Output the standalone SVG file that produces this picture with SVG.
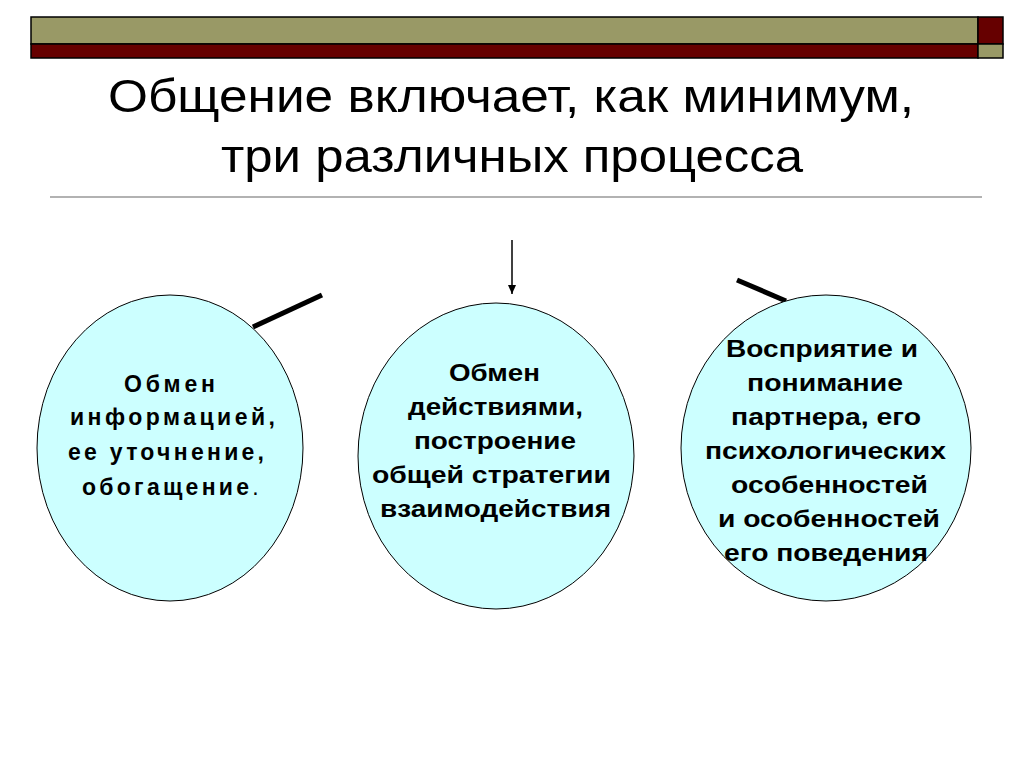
<svg xmlns="http://www.w3.org/2000/svg" width="1024" height="768" viewBox="0 0 1024 768">
<style>
.t{font-family:"Liberation Sans",Arial,sans-serif;fill:#000}
.h{font-size:47px}
.b{font-size:23px;font-weight:bold}
.e{fill:#ccffff;stroke:#000;stroke-width:1}
</style>
<defs><marker id="a" markerWidth="10" markerHeight="10" refX="5" refY="9" markerUnits="userSpaceOnUse"><path d="M1,0 L9,0 L5,9 Z" fill="#000"/></marker></defs>
<rect width="1024" height="768" fill="#fff"/>
<rect x="31" y="17" width="947" height="27" fill="#999966" stroke="#000" stroke-width="1.5"/>
<rect x="31" y="44" width="947" height="14" fill="#660000" stroke="#000" stroke-width="1.5"/>
<rect x="978" y="17" width="25" height="27" fill="#660000" stroke="#000" stroke-width="1.5"/>
<rect x="978" y="44" width="25" height="14" fill="#999966" stroke="#000" stroke-width="1.5"/>
<text class="t h" x="108" y="112" textLength="806" lengthAdjust="spacingAndGlyphs">Общение включает, как минимум,</text>
<text class="t h" x="221" y="172" textLength="582" lengthAdjust="spacingAndGlyphs">три различных процесса</text>
<line x1="50" y1="197" x2="982" y2="197" stroke="#999" stroke-width="1.5"/>
<g id="connectors" stroke="#000">
<line x1="253" y1="327" x2="322" y2="295" stroke-width="5"/>
<line x1="512" y1="240" x2="512" y2="294" stroke-width="1.5" marker-end="url(#a)"/>
<line x1="737" y1="280" x2="786" y2="301" stroke-width="5"/>
</g>
<g id="n1"><ellipse class="e" cx="170" cy="448" rx="133" ry="153"/>
<text class="t b" lengthAdjust="spacingAndGlyphs"><tspan x="124" y="392" textLength="91">Обмен</tspan><tspan x="70" y="425" textLength="205">информацией,</tspan><tspan x="68" y="460" textLength="196">ее уточнение,</tspan><tspan x="82" y="495" textLength="167">обогащение</tspan><tspan font-weight="normal">.</tspan></text></g>
<g id="n2"><ellipse class="e" cx="496" cy="456" rx="138" ry="153"/>
<text class="t b"><tspan x="449" y="381" textLength="91" lengthAdjust="spacingAndGlyphs">Обмен</tspan><tspan x="408" y="415" textLength="175" lengthAdjust="spacingAndGlyphs">действиями,</tspan><tspan x="414" y="449" textLength="162" lengthAdjust="spacingAndGlyphs">построение</tspan><tspan x="372" y="483" textLength="239" lengthAdjust="spacingAndGlyphs">общей стратегии</tspan><tspan x="380" y="517" textLength="231" lengthAdjust="spacingAndGlyphs">взаимодействия</tspan></text></g>
<g id="n3"><ellipse class="e" cx="826" cy="448" rx="145" ry="153"/>
<text class="t b"><tspan x="726" y="357" textLength="192" lengthAdjust="spacingAndGlyphs">Восприятие и</tspan><tspan x="747" y="391" textLength="156" lengthAdjust="spacingAndGlyphs">понимание</tspan><tspan x="731" y="425" textLength="190" lengthAdjust="spacingAndGlyphs">партнера, его</tspan><tspan x="705" y="459" textLength="241" lengthAdjust="spacingAndGlyphs">психологических</tspan><tspan x="731" y="493" textLength="197" lengthAdjust="spacingAndGlyphs">особенностей</tspan><tspan x="718" y="527" textLength="222" lengthAdjust="spacingAndGlyphs">и особенностей</tspan><tspan x="724" y="561" textLength="204" lengthAdjust="spacingAndGlyphs">его поведения</tspan></text></g>
</svg>
